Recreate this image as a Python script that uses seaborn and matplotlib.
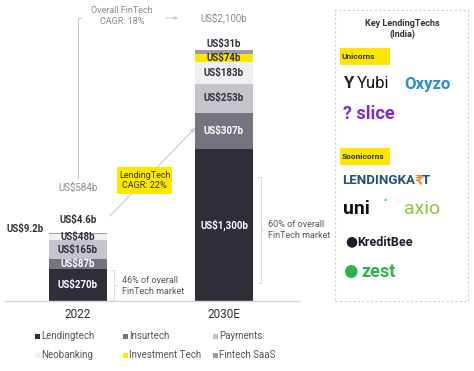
import matplotlib
matplotlib.use("Agg")
import matplotlib.pyplot as plt
from matplotlib.patches import Rectangle
import seaborn as sns
import pandas as pd
import numpy as np

# ---------------- data ----------------
years = ["2022", "2030E"]
segments = ["Lendingtech", "Insurtech", "Payments", "Neobanking", "Investment Tech", "Fintech SaaS"]
values_2022 = [270, 87, 165, 48, 4.6, 9.2]
values_2030 = [1300, 307, 253, 183, 74, 31]
labels_2022 = ["US$270b", "US$87b", "US$165b", "US$48b", "US$4.6b", "US$9.2b"]
labels_2030 = ["US$1,300b", "US$307b", "US$253b", "US$183b", "US$74b", "US$31b"]
totals_labels = ["US$584b", "US$2,100b"]
seg_colors = ["#2e2e38", "#747480", "#c4c4cd", "#f0f0f2", "#ffe600", "#9c9aab"]
text_colors = ["white", "white", "#2e2e38", "#2e2e38", "#2e2e38", "#2e2e38"]

W, H = 474, 371
sns.set_theme(style="white")
plt.rcParams["font.family"] = ["Roboto", "DejaVu Sans"]

fig = plt.figure(figsize=(W / 100, H / 100), dpi=100)
fig.patch.set_facecolor("white")

base_px = 301
ax = fig.add_axes([0, (H - base_px) / H, 300 / W, base_px / H])
ax.set_facecolor("none")

# long-format frame of cumulative tops, drawn top-down so each layer overdraws
rows = []
vals = {"2022": values_2022, "2030E": values_2030}
for y in years:
    cum = np.cumsum(vals[y])
    for i, s in enumerate(segments):
        rows.append({"year": y, "segment": s, "top": cum[i]})
df = pd.DataFrame(rows)

for i in range(len(segments) - 1, -1, -1):
    sub = df[df.segment == segments[i]]
    sns.barplot(data=sub, x="year", y="top", order=years, color=seg_colors[i],
                width=0.40, saturation=1, edgecolor="none", linewidth=0, ax=ax)

ppu = 0.1169  # pixels per unit (vertical)
ax.set_ylim(0, base_px / ppu)
ax.set_xlim(-78 / 146, 1 + 76 / 146)
ax.axis("off")

def px2y(p):
    return (base_px - p) / ppu

def px2x(p):
    return (p - 78) / 146

fs = 7
# value labels
for xi, (v, labs) in enumerate([(values_2022, labels_2022), (values_2030, labels_2030)]):
    cum = np.concatenate([[0], np.cumsum(v)])
    for i, lab in enumerate(labs):
        mid = (cum[i] + cum[i + 1]) / 2
        if xi == 0 and i >= 4:
            continue
        if xi == 1 and i == 5:
            continue
        ax.text(xi, mid, lab, ha="center", va="center", fontsize=fs,
                fontweight="bold", color=text_colors[i])
# special outside labels
ax.text(0, px2y(220), labels_2022[4], ha="center", va="center", fontsize=fs,
        fontweight="bold", color="#2e2e38")
ax.text(px2x(25), px2y(229), labels_2022[5], ha="center", va="center", fontsize=fs,
        fontweight="bold", color="#2e2e38")
ax.text(1, px2y(44), labels_2030[5], ha="center", va="center", fontsize=fs,
        fontweight="bold", color="#2e2e38")
# totals
ax.text(0, px2y(188), totals_labels[0], ha="center", va="center", fontsize=fs, color="#8a8a8a")
ax.text(1, px2y(18), totals_labels[1], ha="center", va="center", fontsize=fs, color="#8a8a8a")

# baseline
ax.plot([px2x(5), px2x(300)], [0, 0], color="#d6d6d6", lw=1, clip_on=False)
# year labels
for xi, y in enumerate(years):
    ax.text(xi, px2y(314), y, ha="center", va="center", fontsize=8.5, color="#2e2e38")

gray = "#c9c9c9"
# overall fintech bracket
ax.plot([px2x(81), px2x(78), px2x(78)], [px2y(18), px2y(18), px2y(178)], color=gray, lw=0.8, clip_on=False)
ax.text(px2x(122), px2y(16), "Overall FinTech\nCAGR: 18%", ha="center", va="center",
        fontsize=6.5, color="#8a8a8a", linespacing=1.2)
ax.annotate("", xy=(px2x(181), px2y(18)), xytext=(px2x(163), px2y(18)),
            arrowprops=dict(arrowstyle="-|>", color=gray, lw=0.7, mutation_scale=5))
# lendingtech CAGR
ax.annotate("", xy=(px2x(197), px2y(126)), xytext=(px2x(108), px2y(218)),
            arrowprops=dict(arrowstyle="-|>", color=gray, lw=0.8, mutation_scale=6))
ax.add_patch(Rectangle((px2x(117), px2y(194)), px2x(172) - px2x(117), px2y(167) - px2y(194),
                       facecolor="#ffe600", edgecolor="none", clip_on=False, zorder=3))
ax.text(px2x(144.5), px2y(180.5), "LendingTech\nCAGR: 22%", ha="center", va="center",
        fontsize=6.5, color="#333333", linespacing=1.2, zorder=4)

# 46% bracket
ax.plot([px2x(111), px2x(114), px2x(114), px2x(111)], [px2y(270), px2y(270), px2y(300), px2y(300)],
        color="#dcdcdc", lw=0.8, clip_on=False)
ax.plot([px2x(114), px2x(117)], [px2y(285), px2y(285)], color="#dcdcdc", lw=0.8, clip_on=False)
ax.text(px2x(122), px2y(286), "46% of overall\nFinTech market", ha="left", va="center",
        fontsize=6.5, color="#555555", linespacing=1.25)
# 60% bracket
ax.plot([px2x(258), px2x(261), px2x(261), px2x(258)], [px2y(177), px2y(177), px2y(283), px2y(283)],
        color="#dcdcdc", lw=0.8, clip_on=False)
ax.plot([px2x(261), px2x(264)], [px2y(230), px2y(230)], color="#dcdcdc", lw=0.8, clip_on=False)
ax.text(px2x(268), px2y(230), "60% of overall\nFinTech market", ha="left", va="center",
        fontsize=6.5, color="#555555", linespacing=1.25)

# ---------------- legend ----------------
def fx(p):
    return p / W

def fy(p):
    return 1 - p / H

leg_pos = [(35, 336), (123, 336), (213, 336), (35, 355), (123, 355), (213, 355)]
for (lx, ly), s, c in zip(leg_pos, segments, seg_colors):
    fig.patches.append(Rectangle((fx(lx), fy(ly + 2.5)), 5 / W, 5 / H, transform=fig.transFigure,
                                 facecolor=c, edgecolor="none"))
    fig.text(fx(lx + 6), fy(ly), s, ha="left", va="center", fontsize=7, color="#555555")

# ---------------- right panel ----------------
fig.patches.append(Rectangle((fx(335), fy(301)), 133 / W, 291 / H, transform=fig.transFigure,
                             facecolor="none", edgecolor="#cfcfcf", lw=0.8, linestyle=(0, (2, 2))))
fig.text(fx(402), fy(29), "Key LendingTechs\n(India)", ha="center", va="center",
         fontsize=6.5, fontweight="bold", color="#333333", linespacing=1.25)
for (ty, lab) in [(48, "Unicorns"), (148, "Soonicorns")]:
    fig.patches.append(Rectangle((fx(340), fy(ty + 17)), 50 / W, 17 / H, transform=fig.transFigure,
                                 facecolor="#ffe600", edgecolor="none"))
    fig.text(fx(342), fy(ty + 8.5), lab, ha="left", va="center", fontsize=6,
             fontweight="bold", color="#333333")

fig.text(fx(343), fy(84), "Y", ha="left", va="center", fontsize=12, fontweight="bold", color="#222222")
fig.text(fx(357), fy(84), "Yubi", ha="left", va="center", fontsize=12, color="#111111")
fig.text(fx(404), fy(84), "Oxyzo", ha="left", va="center", fontsize=12, fontweight="bold", color="#2a8fd0")
fig.text(fx(343), fy(114), "? slice", ha="left", va="center", fontsize=13, fontweight="bold", color="#7b2cc7")
fig.text(fx(342), fy(181), "LENDINGKA", ha="left", va="center", fontsize=9.5, fontweight="bold", color="#1f5480")
fig.text(fx(414), fy(181), "₹", ha="left", va="center", fontsize=9.5, fontweight="bold", color="#f08a24",
         family=["DejaVu Sans"])
fig.text(fx(422), fy(181), "T", ha="left", va="center", fontsize=9.5, fontweight="bold", color="#1f5480")
fig.text(fx(343), fy(209), "uni", ha="left", va="center", fontsize=14, fontweight="bold", color="#111111")
fig.text(fx(383), fy(201), "•", ha="left", va="center", fontsize=7, color="#19c3b3")
fig.text(fx(404), fy(209), "axio", ha="left", va="center", fontsize=14, color="#8dc63f")
fig.text(fx(345), fy(241), "●", ha="left", va="center", fontsize=10, color="#1c1c2e")
fig.text(fx(357), fy(242), "KreditBee", ha="left", va="center", fontsize=9, fontweight="bold", color="#1c1c2e")
fig.text(fx(343), fy(272), "●", ha="left", va="center", fontsize=12, color="#2bb24c")
fig.text(fx(361), fy(272), "zest", ha="left", va="center", fontsize=13, fontweight="bold", color="#2bb24c")

fig.savefig("out.png", dpi=100, facecolor="white")
